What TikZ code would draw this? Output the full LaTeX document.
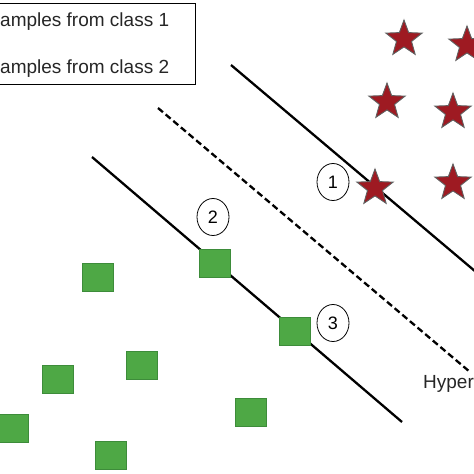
\documentclass[tikz,border=0pt]{standalone}
\usepackage{fontspec}
\setmainfont{Liberation Sans}
\usetikzlibrary{shapes.geometric}
\definecolor{starred}{HTML}{9E1A22}
\definecolor{sqgreen}{HTML}{4EA845}
\definecolor{sqedge}{HTML}{3D8C3A}
\begin{document}
\begin{tikzpicture}[x=1pt,y=-1pt,
  sq/.style={draw=sqedge, fill=sqgreen, line width=1pt, minimum width=31pt, minimum height=28pt, inner sep=0pt},
  st/.style={star, star points=5, star point ratio=2.4, fill=starred, draw=gray!75!black, line width=0.9pt, minimum size=38pt, inner sep=0pt},
  num/.style={ellipse, draw, line width=0.8pt, fill=white, minimum width=32pt, minimum height=37pt, inner sep=0pt, font=\fontsize{18}{18}\selectfont},
  sep/.style={line width=2.3pt},
  lbl/.style={font=\fontsize{19}{19}\selectfont, inner sep=0pt, anchor=base west, text=black!85}]
\useasboundingbox (0,0) rectangle (474,474);
\clip (0,0) rectangle (474,474);
% legend
\node (legend) [draw, line width=1.4pt, minimum width=216pt, minimum height=81pt, anchor=north east, inner sep=0pt] at (196,3) {};
\node (c1) [lbl] at (0,26) {amples from class 1};
\node (c2) [lbl] at (0,73) {amples from class 2};
% separating lines
\coordinate (t1) at (231,65);
\coordinate (t2) at (476,272);
\coordinate (d1) at (158,108);
\coordinate (d2) at (470,372);
\coordinate (b1) at (92,157);
\coordinate (b2) at (402,422);
\draw[sep] (t1) -- (t2);
\draw[sep, dash pattern=on 6.5pt off 3.5pt] (d1) -- (d2);
\draw[sep] (b1) -- (b2);
% stars
\node (s1) [st] at (404,39) {};
\node (s2) [st] at (467,45) {};
\node (s3) [st] at (387,102) {};
\node (s4) [st] at (453,112) {};
\node (s5) [st] at (375,188) {};
\node (s6) [st] at (453,183) {};
% squares
\node (qa) [sq] at (98,277) {};
\node (qb) [sq] at (215,263) {};
\node (qc) [sq] at (295,331) {};
\node (qd) [sq] at (142,365) {};
\node (qe) [sq] at (58,379) {};
\node (qf) [sq] at (13,428) {};
\node (qg) [sq] at (111,455) {};
\node (qh) [sq] at (251,412) {};
% numbered circles
\node (n1) [num] at (333,182) {1};
\node (n2) [num] at (213,217) {2};
\node (n3) [num] at (333,323) {3};
% label
\node (hyp) [lbl] at (423,388) {Hyper};
\end{tikzpicture}
\end{document}
